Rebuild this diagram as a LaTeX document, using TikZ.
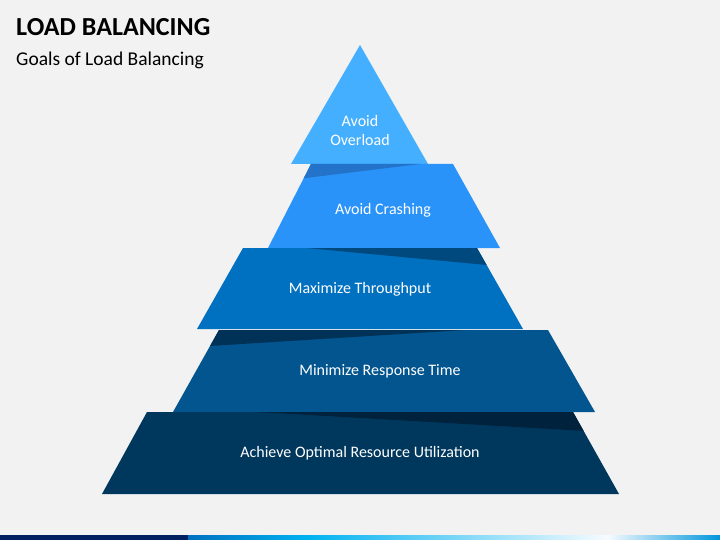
\documentclass[tikz,border=0pt]{standalone}
\usepackage{fontspec}
\setmainfont{Carlito}
\usetikzlibrary{calc}
\definecolor{bg}{HTML}{F2F2F2}
\definecolor{cA}{HTML}{44AFFE}
\definecolor{cB}{HTML}{2A93FA}
\definecolor{cBs}{HTML}{2273C9}
\definecolor{cC}{HTML}{0070C0}
\definecolor{cCs}{HTML}{00497F}
\definecolor{cD}{HTML}{02558F}
\definecolor{cDs}{HTML}{003157}
\definecolor{cE}{HTML}{00375C}
\definecolor{cEs}{HTML}{00223D}
\definecolor{navy}{HTML}{002060}
\definecolor{g1}{HTML}{0070C0}
\definecolor{g2}{HTML}{00B2F0}
\definecolor{g3}{HTML}{F7FBFF}
\definecolor{g4}{HTML}{0096DC}
\tikzset{
  lbl/.style={text=white, font=\fontsize{16}{19}\selectfont, align=center, inner sep=0pt},
}
\begin{document}
\begin{tikzpicture}[x=1pt,y=-1pt]
\fill[bg] (0,0) rectangle (720,540);
\useasboundingbox (0,0) rectangle (720,540);
% title
\node[anchor=base west, inner sep=0pt, font=\fontsize{26}{30}\selectfont\bfseries] (title) at (16,36) {LOAD BALANCING};
\node[anchor=base west, inner sep=0pt, font=\fontsize{19.5}{23}\selectfont] (sub) at (16,66) {Goals of Load Balancing};
% layer 1
\fill[cA] (360,45) -- (428,164) -- (291,164) -- cycle;
% layer 2
\coordinate (b1) at (311,164); \coordinate (b2) at (453,164);
\coordinate (b3) at (500,248); \coordinate (b4) at (268,248);
\fill[cB] (b1) -- (b2) -- (b3) -- (b4) -- cycle;
\fill[cBs] (b1) -- (420,164) -- ($(b1)!0.17!(b4)$) -- cycle;
% layer 3
\coordinate (c1) at (243,248); \coordinate (c2) at (477,248);
\coordinate (c3) at (523,329); \coordinate (c4) at (197,329);
\fill[cC] (c1) -- (c2) -- (c3) -- (c4) -- cycle;
\fill[cCs] (307,248) -- (c2) -- ($(c2)!0.21!(c3)$) -- cycle;
% layer 4
\coordinate (d1) at (219,330); \coordinate (d2) at (548,330);
\coordinate (d3) at (595,412); \coordinate (d4) at (173,412);
\fill[cD] (d1) -- (d2) -- (d3) -- (d4) -- cycle;
\fill[cDs] (d1) -- (465,330) -- ($(d1)!0.195!(d4)$) -- cycle;
% layer 5
\coordinate (e1) at (147,412); \coordinate (e2) at (573,412);
\coordinate (e3) at (619,494); \coordinate (e4) at (102,494);
\fill[cE] (e1) -- (e2) -- (e3) -- (e4) -- cycle;
\fill[cEs] (257,412) -- (e2) -- ($(e2)!0.23!(e3)$) -- cycle;
% labels
\node[lbl] (l1) at (360,131) {Avoid\\Overload};
\node[lbl] (l2) at (383,210) {Avoid Crashing};
\node[lbl] (l3) at (360,289) {Maximize Throughput};
\node[lbl] (l4) at (380,371) {Minimize Response Time};
\node[lbl] (l5) at (360,453) {Achieve Optimal Resource Utilization};
% bottom bar
\fill[navy] (0,535) rectangle (188.5,540);
\shade[left color=g1, right color=g2] (188,535) rectangle (307.5,540);
\shade[left color=g2, right color=g3] (307,535) rectangle (607.5,540);
\shade[left color=g3, right color=g4] (607,535) rectangle (720,540);
\end{tikzpicture}
\end{document}
